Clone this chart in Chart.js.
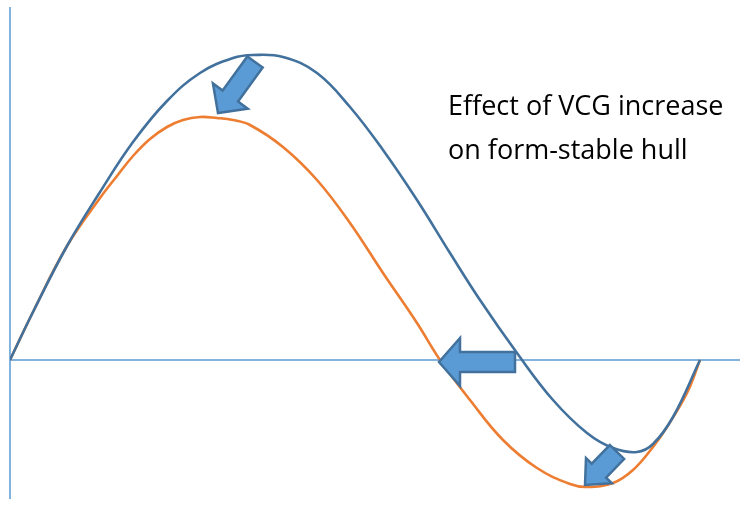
<!DOCTYPE html>
<html>
<head>
<meta charset="utf-8">
<script src="https://cdn.jsdelivr.net/npm/chart.js@4/dist/chart.umd.min.js"></script>
<style>
  html, body { margin: 0; padding: 0; background: #fff; }
  #wrap { position: relative; width: 748px; height: 508px; }
  #note {
    position: absolute; left: 448px; top: 83px;
    font-family: "Open Sans", "Noto Sans", sans-serif;
    font-size: 27px; line-height: 44px; color: #000;
    white-space: nowrap;
  }
</style>
</head>
<body>
<div id="wrap">
  <canvas id="chart" width="748" height="508"></canvas>
  <div id="note">Effect of VCG increase<br>on form-stable hull</div>
</div>
<script>
// heel angle (x) vs righting lever (y)
var blueX = [0, 23, 57, 90, 123, 157, 190, 223, 243, 273, 307, 340, 373, 407, 440, 470, 507, 543, 577, 603, 627, 643, 663, 690];
var blueY = [0, 48, 114, 168, 218, 259, 287, 302, 305, 303, 287, 253, 210, 160, 107, 60, 7, -40, -73, -88, -92, -84, -57, 0];

var orangeX = [0, 23, 57, 90, 107, 123, 140, 157, 173, 190, 207, 223, 240, 273, 307, 340, 373, 407, 430, 460, 493, 527, 560, 577, 603, 623, 643, 657, 677, 690];
var orangeY = [0, 48, 114, 162, 184, 204, 221, 233, 240, 243, 242, 240, 235, 213, 180, 137, 87, 37, 0, -40, -80, -108, -124, -127, -123, -110, -87, -67, -33, 0];

// block arrows: tail and tip in data units
var arrows = [
  { from: [245, 298], to: [208, 247], shaft: 19, head: 43, headLen: 21 },
  { from: [505, -2], to: [429, -2], shaft: 20, head: 48, headLen: 21 },
  { from: [607, -92], to: [575, -125], shaft: 20, head: 36, headLen: 20 }
];

function toPoints(xs, ys) {
  return xs.map(function(x, i) { return { x: x, y: ys[i] }; });
}

var axesPlugin = {
  id: 'axesLines',
  beforeDatasetsDraw: function(chart) {
    var ctx = chart.ctx, a = chart.chartArea;
    var x0 = chart.scales.x.getPixelForValue(0);
    var y0 = chart.scales.y.getPixelForValue(0);
    ctx.save();
    ctx.strokeStyle = '#5B9BD5';
    ctx.lineWidth = 1.5;
    ctx.beginPath();
    ctx.moveTo(x0, a.top);
    ctx.lineTo(x0, a.bottom);
    ctx.moveTo(a.left, y0);
    ctx.lineTo(a.right, y0);
    ctx.stroke();
    ctx.restore();
  }
};

var arrowPlugin = {
  id: 'blockArrows',
  afterDatasetsDraw: function(chart) {
    var ctx = chart.ctx;
    var sx = chart.scales.x, sy = chart.scales.y;
    arrows.forEach(function(ar) {
      var x1 = sx.getPixelForValue(ar.from[0]), y1 = sy.getPixelForValue(ar.from[1]);
      var x2 = sx.getPixelForValue(ar.to[0]), y2 = sy.getPixelForValue(ar.to[1]);
      var len = Math.hypot(x2 - x1, y2 - y1);
      var ang = Math.atan2(y2 - y1, x2 - x1);
      var s = ar.shaft / 2, h = ar.head / 2, b = len - ar.headLen;
      ctx.save();
      ctx.translate(x1, y1);
      ctx.rotate(ang);
      ctx.beginPath();
      ctx.moveTo(0, -s);
      ctx.lineTo(b, -s);
      ctx.lineTo(b, -h);
      ctx.lineTo(len, 0);
      ctx.lineTo(b, h);
      ctx.lineTo(b, s);
      ctx.lineTo(0, s);
      ctx.closePath();
      ctx.fillStyle = '#5B9BD5';
      ctx.fill();
      ctx.lineJoin = 'miter';
      ctx.lineWidth = 2.5;
      ctx.strokeStyle = '#41719C';
      ctx.stroke();
      ctx.restore();
    });
  }
};

new Chart(document.getElementById('chart'), {
  type: 'line',
  data: {
    datasets: [
      {
        label: 'Original',
        data: toPoints(blueX, blueY),
        borderColor: '#41719C',
        borderWidth: 2.6,
        pointRadius: 0,
        tension: 0.4,
        fill: false
      },
      {
        label: 'Raised VCG',
        data: toPoints(orangeX, orangeY),
        borderColor: '#ED7D31',
        borderWidth: 2.6,
        pointRadius: 0,
        tension: 0.4,
        fill: false
      }
    ]
  },
  options: {
    responsive: false,
    animation: false,
    devicePixelRatio: 1,
    layout: { padding: { left: 10, top: 7, right: 8, bottom: 9 } },
    plugins: { legend: { display: false }, tooltip: { enabled: false } },
    scales: {
      x: { type: 'linear', min: 0, max: 730, display: false },
      y: { type: 'linear', min: -139, max: 353, display: false }
    }
  },
  plugins: [axesPlugin, arrowPlugin]
});
</script>
</body>
</html>
